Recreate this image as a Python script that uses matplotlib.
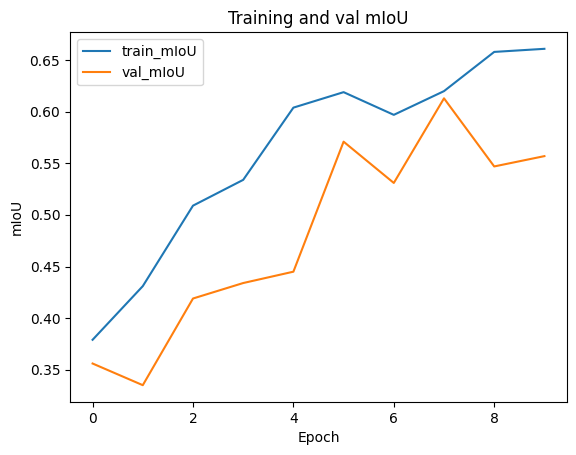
import matplotlib
matplotlib.use("Agg")
import matplotlib.pyplot as plt

epochs = list(range(10))
train_miou = [0.379, 0.431, 0.509, 0.534, 0.604, 0.619, 0.597, 0.620, 0.658, 0.661]
val_miou = [0.356, 0.335, 0.419, 0.434, 0.445, 0.571, 0.531, 0.613, 0.547, 0.557]

W, H = 576, 455
fig = plt.figure(figsize=(W / 100, H / 100), dpi=100)
ax = fig.add_axes([70 / W, (H - 402) / H, 497 / W, 370 / H])
ax.plot(epochs, train_miou, label="train_mIoU")
ax.plot(epochs, val_miou, label="val_mIoU")
ax.set_title("Training and val mIoU")
ax.set_xlabel("Epoch")
ax.set_ylabel("mIoU")
ax.legend(loc="upper left")
fig.savefig("out.png", dpi=100)
